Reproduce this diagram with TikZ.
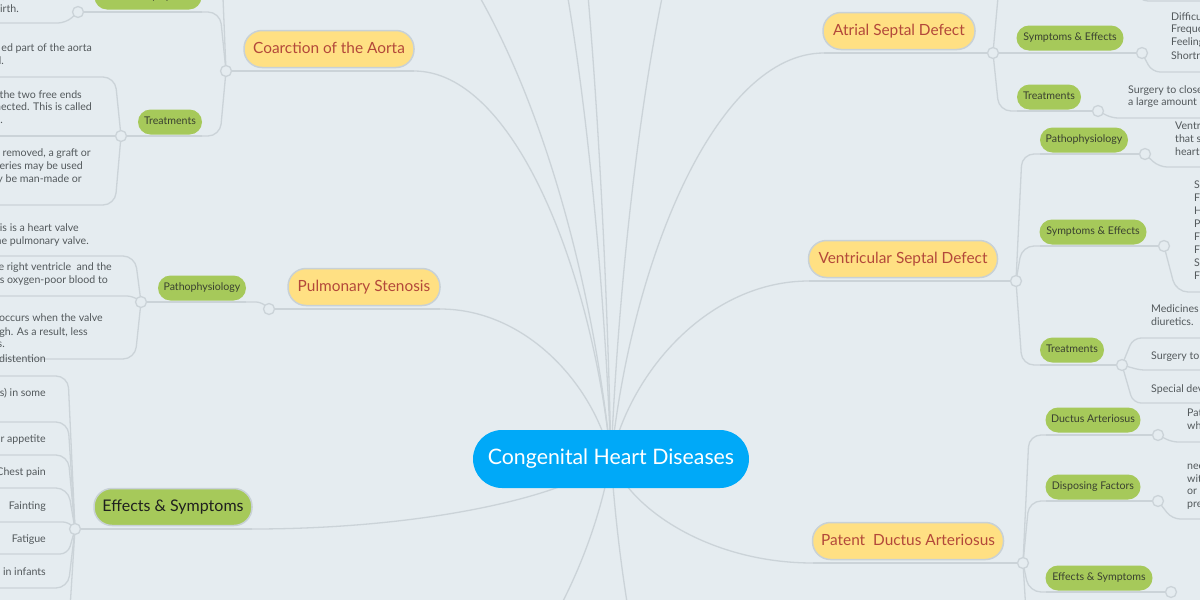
\documentclass[tikz,border=0pt]{standalone}
\usepackage{fontspec}
\setmainfont{Lato}
\usetikzlibrary{calc,backgrounds}
\definecolor{bgc}{HTML}{E5ECF0}
\definecolor{linec}{HTML}{CBD3D8}
\definecolor{rootc}{HTML}{00A9F8}
\definecolor{topicc}{HTML}{FFE083}
\definecolor{topict}{HTML}{B3483A}
\definecolor{greenc}{HTML}{A6C95A}
\definecolor{subt}{HTML}{3A4130}
\definecolor{leaft}{HTML}{53595C}
\definecolor{edgec}{HTML}{C8D1D6}
\tikzset{
 conn/.style={draw=linec, line width=1.3pt},
 rootn/.style={fill=rootc, text=white, rounded corners=29pt, minimum width=276pt, minimum height=58pt, inner sep=0pt, font=\fontsize{21.3}{24}\selectfont, text height=15pt, text depth=4pt},
 topicn/.style={fill=topicc, draw=edgec, line width=1.5pt, text=topict, rounded corners=18pt, minimum height=37pt, inner sep=0pt, font=\fontsize{15.4}{18}\selectfont, text height=11pt, text depth=3pt},
 topicgn/.style={topicn, fill=greenc, text=black!88, font=\fontsize{16}{18}\selectfont},
 subn/.style={fill=greenc, text=subt, rounded corners=12.5pt, minimum height=25pt, inner sep=0pt, font=\fontsize{10.6}{12}\selectfont, text height=7.5pt, text depth=2pt},
 leafn/.style={text=leaft, inner sep=0pt, font=\fontsize{10.6}{12}\selectfont, text height=7.5pt, text depth=2pt},
 leafl/.style={leafn, anchor=east},
 leafr/.style={leafn, anchor=west},
 dotn/.style={circle, draw=linec, fill=bgc, line width=1.3pt, minimum size=11pt, inner sep=0pt},
}
\newcommand\rootlink[1]{\draw[conn] let \p1=(root.center), \p2=(#1) in (\p1) .. controls ({\x1+0.1*(\x2-\x1)},{\y1+0.5*(\y2-\y1)}) and ({\x1+0.5*(\x2-\x1)},{\y2}) .. (\p2);}
\newcommand\brlink[4][12pt]{\draw[conn, rounded corners=#1] let \p1=(#2), \p2=(#3) in (\p1) -- ({\x1+(#4)},{\y2}) -- (\p2);}
\begin{document}
\begin{tikzpicture}[x=1pt,y=-1pt]
\useasboundingbox (0,0) rectangle (1200,600);
% ---------- root and main topics
\node[rootn] (root) at (611,459) {Congenital Heart Diseases};
\node[topicn, minimum width=170pt] (coa) at (329,49) {Coarction of the Aorta};
\node[topicn, minimum width=152pt] (pul) at (364,287) {Pulmonary Stenosis};
\node[topicgn, minimum width=158pt] (efs) at (173,507) {Effects \& Symptoms};
\node[topicn, minimum width=152pt] (asd) at (899,31) {Atrial Septal Defect};
\node[topicn, minimum width=189pt] (vsd) at (903,259) {Ventricular Septal Defect};
\node[topicn, minimum width=191pt] (pda) at (908,541) {Patent\ \ Ductus Arteriosus};
% underline ends and junction dots of main topics
\coordinate (coaU) at (414,71);  \node[dotn] (coaD) at (226,71) {};
\coordinate (pulU) at (440,309); \node[dotn] (pulD) at (269,309) {};
\coordinate (efsU) at (252,529); \node[dotn] (efsD) at (75,529) {};
\coordinate (asdU) at (824,53);  \node[dotn] (asdD) at (993,53) {};
\coordinate (vsdU) at (809,281); \node[dotn] (vsdD) at (1016,281) {};
\coordinate (pdaU) at (813,563); \node[dotn] (pdaD) at (1023,563) {};
% branches leaving the picture
\coordinate (topA) at (300,-150);
\coordinate (topB) at (475,-250);
\coordinate (topC) at (530,-300);
\coordinate (topD) at (760,-220);
\coordinate (botA) at (300,800);
\coordinate (botB) at (760,900);
% ---------- sub topics
\node[subn, minimum width=107pt] (coaES) at (148,-3) {Effects \& Symptoms};
\coordinate (coaESu) at (202,12); \node[dotn] (coaESD) at (78,12) {};
\node[subn, minimum width=64pt] (coaTr) at (170,122) {Treatments};
\coordinate (coaTru) at (202,136); \node[dotn] (coaTrD) at (121,136) {};
\coordinate (coaUp) at (202,-75);
\node[subn, minimum width=88pt] (pulPa) at (202,288) {Pathophysiology};
\coordinate (pulPau) at (246,302); \node[dotn] (pulPaD) at (141,302) {};
\node[subn, minimum width=107pt] (asdSE) at (1070,38) {Symptoms \& Effects};
\coordinate (asdSEu) at (1017,53); \node[dotn] (asdSED) at (1142,53) {};
\node[subn, minimum width=64pt] (asdTr) at (1049,97) {Treatments};
\coordinate (asdTru) at (1017,111); \node[dotn] (asdTrD) at (1098,111) {};
\coordinate (asdUp) at (1017,-14);
\coordinate (asdUpD) at (1128,-22);
\node[subn, minimum width=88pt] (vsdPa) at (1084,140) {Pathophysiology};
\coordinate (vsdPau) at (1040,154); \node[dotn] (vsdPaD) at (1145,154) {};
\node[subn, minimum width=107pt] (vsdSE) at (1093,232) {Symptoms \& Effects};
\coordinate (vsdSEu) at (1040,246); \node[dotn] (vsdSED) at (1164,246) {};
\node[subn, minimum width=64pt] (vsdTr) at (1072,350) {Treatments};
\coordinate (vsdTru) at (1040,365); \node[dotn] (vsdTrD) at (1122,365) {};
\node[subn, minimum width=95pt] (pdaDA) at (1093,420) {Ductus Arteriosus};
\coordinate (pdaDAu) at (1046,435); \node[dotn] (pdaDAD) at (1158,435) {};
\node[subn, minimum width=95pt] (pdaDF) at (1093,487) {Disposing Factors};
\coordinate (pdaDFu) at (1046,501); \node[dotn] (pdaDFD) at (1158,501) {};
\node[subn, minimum width=107pt] (pdaES) at (1099,578) {Effects \& Symptoms};
\coordinate (pdaESu) at (1046,592); \node[dotn] (pdaESD) at (1171,592) {};
\coordinate (pdaDown) at (1046,660);
% ---------- leaves, left
\node[leafl] (e1a) at (17,-2) {es in};
\node[leafl] (e1b) at (19,10) {birth.};
\coordinate (e1u) at (-40,23);
\node[leafl] (t1a) at (92,49) {ed part of the aorta};
\node[leafl] (t1b) at (4,62) {l.};
\coordinate (t1u) at (-40,77);
\node[leafl] (t2a) at (82,96) {the two free ends};
\node[leafl] (t2b) at (92,108) {nected. This is called};
\node[leafl] (t2c) at (3,121) {.};
\coordinate (t2u) at (-40,136);
\node[leafl] (t3a) at (91,154) {s removed, a graft or};
\node[leafl] (t3b) at (83,167) {teries may be used};
\node[leafl] (t3c) at (82,180) {y be man-made or};
\coordinate (t3u) at (-40,205);
\node[leafl] (p1a) at (79,229) {sis is a heart valve};
\node[leafl] (p1b) at (89,242) {he pulmonary valve.};
\coordinate (p1u) at (-40,256);
\node[leafl] (p2a) at (112,268) {e right ventricle\ \ and the};
\node[leafl] (p2b) at (108,281) {s oxygen-poor blood to};
\coordinate (p2u) at (-40,296);
\node[leafl] (p3a) at (103,319) {occurs when the valve};
\node[leafl] (p3b) at (88,333) {gh. As a result, less};
\node[leafl] (p3c) at (5,345) {s.};
\coordinate (p3u) at (-40,359);
\node[leafl] (s1) at (46,360) {distention};   \coordinate (s1u) at (-40,376);
\node[leafl] (s2) at (46,394) {s) in some};   \coordinate (s2u) at (-40,422);
\node[leafl] (s3) at (46,440) {r appetite};   \coordinate (s3u) at (-40,455);
\node[leafl] (s4) at (46,473) {Chest pain};   \coordinate (s4u) at (-40,488);
\node[leafl] (s5) at (46,507) {Fainting};     \coordinate (s5u) at (-40,522);
\node[leafl] (s6) at (46,540) {Fatigue};      \coordinate (s6u) at (-40,554);
\node[leafl] (s7) at (46,573) {e in infants}; \coordinate (s7u) at (-40,588);
\coordinate (s8u) at (-40,640);
% ---------- leaves, right
\node[leafr] (a1a) at (1171,18) {Difficul};
\node[leafr] (a1b) at (1171,30) {Frequen};
\node[leafr] (a1c) at (1171,43) {Feeling};
\node[leafr] (a1d) at (1171,57) {Shortne};
\coordinate (a1u) at (1240,72);
\coordinate (a0u) at (1240,1);
\node[leafr] (a2a) at (1128,91) {Surgery to close};
\node[leafr] (a2b) at (1128,103) {a large amount of};
\coordinate (a2u) at (1240,118);
\node[leafr] (v1a) at (1175,127) {Ventri};
\node[leafr] (v1b) at (1175,140) {that s};
\node[leafr] (v1c) at (1175,153) {heart.};
\coordinate (v1u) at (1240,167);
\node[leafr] (v2a) at (1194,186) {S};
\node[leafr] (v2b) at (1194,199) {F};
\node[leafr] (v2c) at (1194,212) {H};
\node[leafr] (v2d) at (1194,225) {P};
\node[leafr] (v2e) at (1194,238) {F};
\node[leafr] (v2f) at (1194,251) {F};
\node[leafr] (v2g) at (1194,264) {S};
\node[leafr] (v2h) at (1194,277) {F};
\coordinate (v2u) at (1240,292);
\node[leafr] (v3a) at (1151,310) {Medicines};
\node[leafr] (v3b) at (1151,323) {diuretics.};
\coordinate (v3u) at (1240,338);
\node[leafr] (v4) at (1151,357) {Surgery to c};
\coordinate (v4u) at (1240,370);
\node[leafr] (v5) at (1151,390) {Special dev};
\coordinate (v5u) at (1240,403);
\node[leafr] (d1a) at (1187,414) {Pat};
\node[leafr] (d1b) at (1187,427) {wh};
\coordinate (d1u) at (1240,442);
\node[leafr] (d2a) at (1187,467) {nec};
\node[leafr] (d2b) at (1187,480) {wit};
\node[leafr] (d2c) at (1187,492) {or l};
\node[leafr] (d2d) at (1187,505) {pre};
\coordinate (d2u) at (1240,519);
% ---------- connectors
\begin{pgfonlayer}{background}
\fill[bgc] (0,0) rectangle (1200,600);
\rootlink{coaU} \rootlink{pulU} \rootlink{efsU}
\rootlink{asdU} \rootlink{vsdU} \rootlink{pdaU}
\rootlink{topA} \rootlink{topB} \rootlink{topC} \rootlink{topD}
\rootlink{botA} \rootlink{botB}
\draw[conn] (coaU) -- (coaD);
\draw[conn] (pulU) -- (pulD);
\draw[conn] (efsU) -- (efsD);
\draw[conn] (asdU) -- (asdD);
\draw[conn] (vsdU) -- (vsdD);
\draw[conn] (pdaU) -- (pdaD);
% coarction
\brlink{coaD}{coaUp}{-6pt}
\brlink{coaD}{coaESu}{-6pt} \draw[conn] (coaESu) -- (coaESD);
\brlink{coaD}{coaTru}{-6pt} \draw[conn] (coaTru) -- (coaTrD);
\brlink[8pt]{coaESD}{e1u}{-12pt}
\brlink{coaTrD}{t1u}{-6pt}
\draw[conn] (coaTrD) -- (t2u);
\brlink{coaTrD}{t3u}{-6pt}
% pulmonary
\brlink[5pt]{pulD}{pulPau}{-8pt} \draw[conn] (pulPau) -- (pulPaD);
\brlink{pulPaD}{p1u}{-6pt}
\brlink[6pt]{pulPaD}{p2u}{-8pt}
\brlink{pulPaD}{p3u}{-6pt}
% effects & symptoms
\brlink{efsD}{s1u}{-7pt}
\brlink{efsD}{s2u}{-7pt}
\brlink{efsD}{s3u}{-7pt}
\brlink{efsD}{s4u}{-7pt}
\brlink[5pt]{efsD}{s5u}{-7pt}
\brlink[8pt]{efsD}{s6u}{-7pt}
\brlink{efsD}{s7u}{-7pt}
\brlink{efsD}{s8u}{-7pt}
% atrial
\brlink{asdD}{asdUp}{6pt}
\draw[conn] (asdD) -- (asdSEu); \draw[conn] (asdSEu) -- (asdSED);
\brlink{asdD}{asdTru}{6pt} \draw[conn] (asdTru) -- (asdTrD);
\brlink[8pt]{asdSED}{a1u}{10pt}
\brlink[6pt]{asdTrD}{a2u}{14pt}
\brlink[8pt]{asdUpD}{a0u}{12pt}
% ventricular
\brlink{vsdD}{vsdPau}{6pt} \draw[conn] (vsdPau) -- (vsdPaD);
\brlink{vsdD}{vsdSEu}{6pt} \draw[conn] (vsdSEu) -- (vsdSED);
\brlink{vsdD}{vsdTru}{6pt} \draw[conn] (vsdTru) -- (vsdTrD);
\brlink[8pt]{vsdPaD}{v1u}{14pt}
\brlink{vsdSED}{v2u}{12pt}
\brlink[8pt]{vsdTrD}{v3u}{11pt}
\brlink[5pt]{vsdTrD}{v4u}{18pt}
\brlink[8pt]{vsdTrD}{v5u}{11pt}
% patent ductus
\brlink{pdaD}{pdaDAu}{6pt} \draw[conn] (pdaDAu) -- (pdaDAD);
\brlink{pdaD}{pdaDFu}{6pt} \draw[conn] (pdaDFu) -- (pdaDFD);
\brlink{pdaD}{pdaESu}{6pt} \draw[conn] (pdaESu) -- (pdaESD);
\brlink{pdaD}{pdaDown}{6pt}
\brlink[6pt]{pdaDAD}{d1u}{14pt}
\brlink[8pt]{pdaDFD}{d2u}{14pt}
\end{pgfonlayer}
\end{tikzpicture}
\end{document}
